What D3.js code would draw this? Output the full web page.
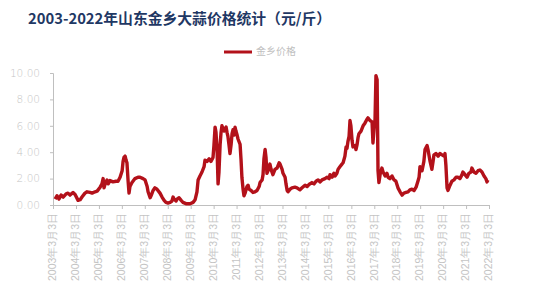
<!DOCTYPE html>
<html>
<head>
<meta charset="utf-8">
<script src="https://d3js.org/d3.v7.min.js"></script>
<style>
    body { margin: 0; background: #fff; font-family: "Noto Sans CJK SC", sans-serif; }
    .axis text { fill: #c4c4c4; }
    .axis path, .axis line { stroke: #bfbfbf; }
</style>
</head>
<body>
<script>
    // decimal years and price (元/斤)
    const years = [
        2003.26, 2003.34, 2003.43, 2003.52, 2003.61, 2003.74, 2003.82, 2003.91, 2004.04, 2004.13,
        2004.26, 2004.35, 2004.43, 2004.56, 2004.65, 2004.78, 2004.87, 2005.00, 2005.09, 2005.22,
        2005.30, 2005.35, 2005.39, 2005.44, 2005.52, 2005.57, 2005.65, 2005.78, 2005.91, 2006.00,
        2006.09, 2006.18, 2006.22, 2006.26, 2006.31, 2006.35, 2006.39, 2006.44, 2006.48, 2006.52,
        2006.61, 2006.74, 2006.87, 2006.96, 2007.09, 2007.18, 2007.27, 2007.31, 2007.40, 2007.44,
        2007.53, 2007.61, 2007.70, 2007.83, 2007.92, 2008.01, 2008.09, 2008.18, 2008.27, 2008.35,
        2008.40, 2008.44, 2008.53, 2008.57, 2008.66, 2008.75, 2008.83, 2008.96, 2009.14, 2009.27,
        2009.36, 2009.44, 2009.49, 2009.57, 2009.66, 2009.75, 2009.79, 2009.88, 2009.97, 2010.05,
        2010.14, 2010.18, 2010.23, 2010.27, 2010.32, 2010.36, 2010.40, 2010.45, 2010.49, 2010.53,
        2010.62, 2010.71, 2010.75, 2010.79, 2010.84, 2010.88, 2010.93, 2010.97, 2011.01, 2011.06,
        2011.10, 2011.14, 2011.19, 2011.23, 2011.32, 2011.36, 2011.40, 2011.45, 2011.49, 2011.54,
        2011.62, 2011.67, 2011.71, 2011.80, 2011.88, 2011.97, 2012.06, 2012.15, 2012.19, 2012.28,
        2012.32, 2012.36, 2012.41, 2012.45, 2012.49, 2012.54, 2012.62, 2012.67, 2012.75, 2012.84,
        2012.93, 2013.02, 2013.06, 2013.15, 2013.19, 2013.28, 2013.32, 2013.37, 2013.41, 2013.50,
        2013.58, 2013.71, 2013.80, 2013.93, 2014.02, 2014.15, 2014.24, 2014.32, 2014.45, 2014.54,
        2014.63, 2014.72, 2014.80, 2014.89, 2015.02, 2015.11, 2015.20, 2015.24, 2015.33, 2015.41,
        2015.46, 2015.54, 2015.59, 2015.67, 2015.76, 2015.81, 2015.89, 2015.94, 2015.98, 2016.02,
        2016.07, 2016.11, 2016.15, 2016.20, 2016.24, 2016.33, 2016.37, 2016.42, 2016.46, 2016.50,
        2016.59, 2016.68, 2016.76, 2016.85, 2016.89, 2016.98, 2017.07, 2017.11, 2017.16, 2017.20,
        2017.24, 2017.29, 2017.33, 2017.37, 2017.42, 2017.50, 2017.55, 2017.64, 2017.72, 2017.77,
        2017.85, 2017.94, 2018.03, 2018.11, 2018.20, 2018.29, 2018.38, 2018.46, 2018.55, 2018.64,
        2018.72, 2018.81, 2018.90, 2018.99, 2019.07, 2019.12, 2019.16, 2019.25, 2019.33, 2019.38,
        2019.47, 2019.51, 2019.60, 2019.68, 2019.73, 2019.77, 2019.86, 2019.95, 2020.03, 2020.12,
        2020.21, 2020.25, 2020.29, 2020.34, 2020.38, 2020.47, 2020.55, 2020.64, 2020.73, 2020.82,
        2020.90, 2020.99, 2021.03, 2021.12, 2021.21, 2021.29, 2021.38, 2021.42, 2021.51, 2021.60,
        2021.69, 2021.77, 2021.86, 2021.95, 2022.03, 2022.08, 2022.12
    ];
    const prices = [
        0.45, 0.70, 0.45, 0.75, 0.60, 0.85, 0.90, 0.75, 0.95, 0.80,
        0.35, 0.40, 0.60, 0.90, 1.00, 0.95, 0.90, 1.00, 1.05, 1.35,
        1.60, 2.00, 1.30, 1.60, 1.90, 1.60, 1.85, 1.75, 1.80, 1.80,
        2.10, 2.60, 3.30, 3.60, 3.70, 3.40, 3.20, 1.80, 0.90, 1.40,
        1.70, 2.00, 2.10, 2.10, 2.00, 1.90, 1.40, 1.00, 0.55, 0.70,
        1.10, 1.30, 1.20, 0.90, 0.60, 0.35, 0.20, 0.15, 0.20, 0.30,
        0.60, 0.45, 0.30, 0.45, 0.55, 0.35, 0.20, 0.10, 0.10, 0.20,
        0.40, 1.00, 1.90, 2.20, 2.50, 2.90, 3.40, 3.30, 3.50, 3.30,
        3.60, 4.50, 5.90, 5.50, 4.00, 1.60, 2.50, 4.60, 5.50, 6.00,
        5.60, 5.90, 5.50, 5.20, 4.50, 3.90, 4.60, 5.40, 5.70, 5.30,
        5.90, 5.60, 5.30, 5.00, 4.60, 3.50, 2.10, 1.20, 0.70, 0.90,
        1.40, 1.50, 1.20, 1.10, 0.95, 1.00, 1.10, 1.40, 1.70, 1.90,
        2.30, 3.50, 4.20, 3.60, 2.40, 2.60, 3.10, 2.70, 2.30, 2.70,
        2.80, 3.20, 3.10, 2.70, 2.40, 2.10, 1.60, 1.10, 1.00, 1.20,
        1.30, 1.35, 1.30, 1.15, 1.30, 1.50, 1.40, 1.55, 1.70, 1.60,
        1.80, 1.90, 1.75, 1.90, 2.00, 2.10, 2.00, 2.30, 2.10, 2.40,
        2.20, 2.40, 2.70, 2.90, 3.10, 3.20, 3.70, 4.40, 4.30, 4.80,
        5.20, 6.40, 6.00, 4.90, 4.40, 4.50, 4.20, 4.60, 5.10, 5.40,
        5.60, 6.00, 6.20, 6.50, 6.60, 6.40, 6.30, 4.70, 5.80, 6.50,
        9.80, 9.50, 2.60, 1.70, 2.30, 2.80, 2.50, 2.20, 2.40, 2.10,
        2.00, 2.20, 1.90, 1.80, 1.30, 1.00, 0.75, 0.90, 0.95, 1.00,
        1.15, 1.20, 1.10, 1.35, 1.80, 2.10, 2.90, 2.60, 3.30, 4.20,
        4.50, 4.20, 3.30, 2.70, 3.30, 3.80, 3.90, 3.70, 3.90, 3.80,
        3.70, 3.90, 3.00, 1.30, 1.10, 1.50, 1.80, 1.90, 2.10, 2.10,
        2.00, 2.30, 2.50, 2.30, 2.10, 2.40, 2.50, 2.80, 2.50, 2.40,
        2.60, 2.65, 2.50, 2.20, 2.00, 1.75, 1.90
    ];
    const tickYears = d3.range(2003, 2023);
    const yTicks = [0, 2, 4, 6, 8, 10];

    const title = '2003-2022年山东金乡大蒜价格统计（元/斤）';
    const seriesName = '金乡价格';
    const lineColor = '#b3111a';

    const width = 555, height = 296;
    const plotLeft = 53, plotRight = 489, plotTop = 73, plotBottom = 205;

    // decimal year -> Date
    const toDate = t => {
        const yr = Math.floor(t);
        const start = new Date(yr, 0, 1), end = new Date(yr + 1, 0, 1);
        return new Date(+start + (t - yr) * (end - start));
    };

    const data = years.map((t, i) => ({ date: toDate(t), value: prices[i] }));

    const x = d3.scaleTime()
        .domain([new Date(2003, 2, 3), new Date(2022, 2, 3)])
        .range([plotLeft, plotRight]);

    const y = d3.scaleLinear()
        .domain([0, 10])
        .range([plotBottom, plotTop]);

    const svg = d3.select('body').append('svg')
        .attr('width', width)
        .attr('height', height);

    svg.append('text')
        .attr('x', 28)
        .attr('y', 24)
        .style('font-size', '14.8px')
        .style('font-weight', 'bold')
        .style('fill', '#1f3864')
        .text(title);

    // legend
    svg.append('line')
        .attr('x1', 224).attr('x2', 252)
        .attr('y1', 52).attr('y2', 52)
        .attr('stroke', lineColor)
        .attr('stroke-width', 3);
    svg.append('text')
        .attr('x', 256)
        .attr('y', 52)
        .attr('dominant-baseline', 'middle')
        .style('font-size', '10px')
        .style('fill', '#bfbfbf')
        .text(seriesName);

    const fmt = d3.format('.2f');
    const yAxis = svg.append('g')
        .attr('class', 'axis')
        .attr('transform', `translate(${plotLeft},0)`)
        .call(d3.axisLeft(y).tickValues(yTicks).tickFormat(fmt).tickSize(3).tickPadding(10));
    yAxis.selectAll('text').style('font-size', '10.5px').style('font-family', '"DejaVu Sans", sans-serif').style('font-weight', 300);

    const xAxis = svg.append('g')
        .attr('class', 'axis')
        .attr('transform', `translate(0,${plotBottom})`)
        .call(d3.axisBottom(x)
            .tickValues(tickYears.map(yr => new Date(yr, 2, 3)))
            .tickFormat(d => `${d.getFullYear()}年3月3日`)
            .tickSizeOuter(0)
            .tickSize(4));
    xAxis.selectAll('text')
        .style('font-size', '10.5px')
        .attr('text-anchor', 'end')
        .attr('dominant-baseline', 'middle')
        .attr('transform', 'rotate(-90)')
        .attr('x', -8)
        .attr('y', 0)
        .attr('dy', null);

    svg.append('path')
        .datum(data)
        .attr('fill', 'none')
        .attr('stroke', lineColor)
        .attr('stroke-width', 3.4)
        .attr('stroke-linejoin', 'round')
        .attr('d', d3.line().x(d => x(d.date)).y(d => y(d.value)));
</script>
</body>
</html>
